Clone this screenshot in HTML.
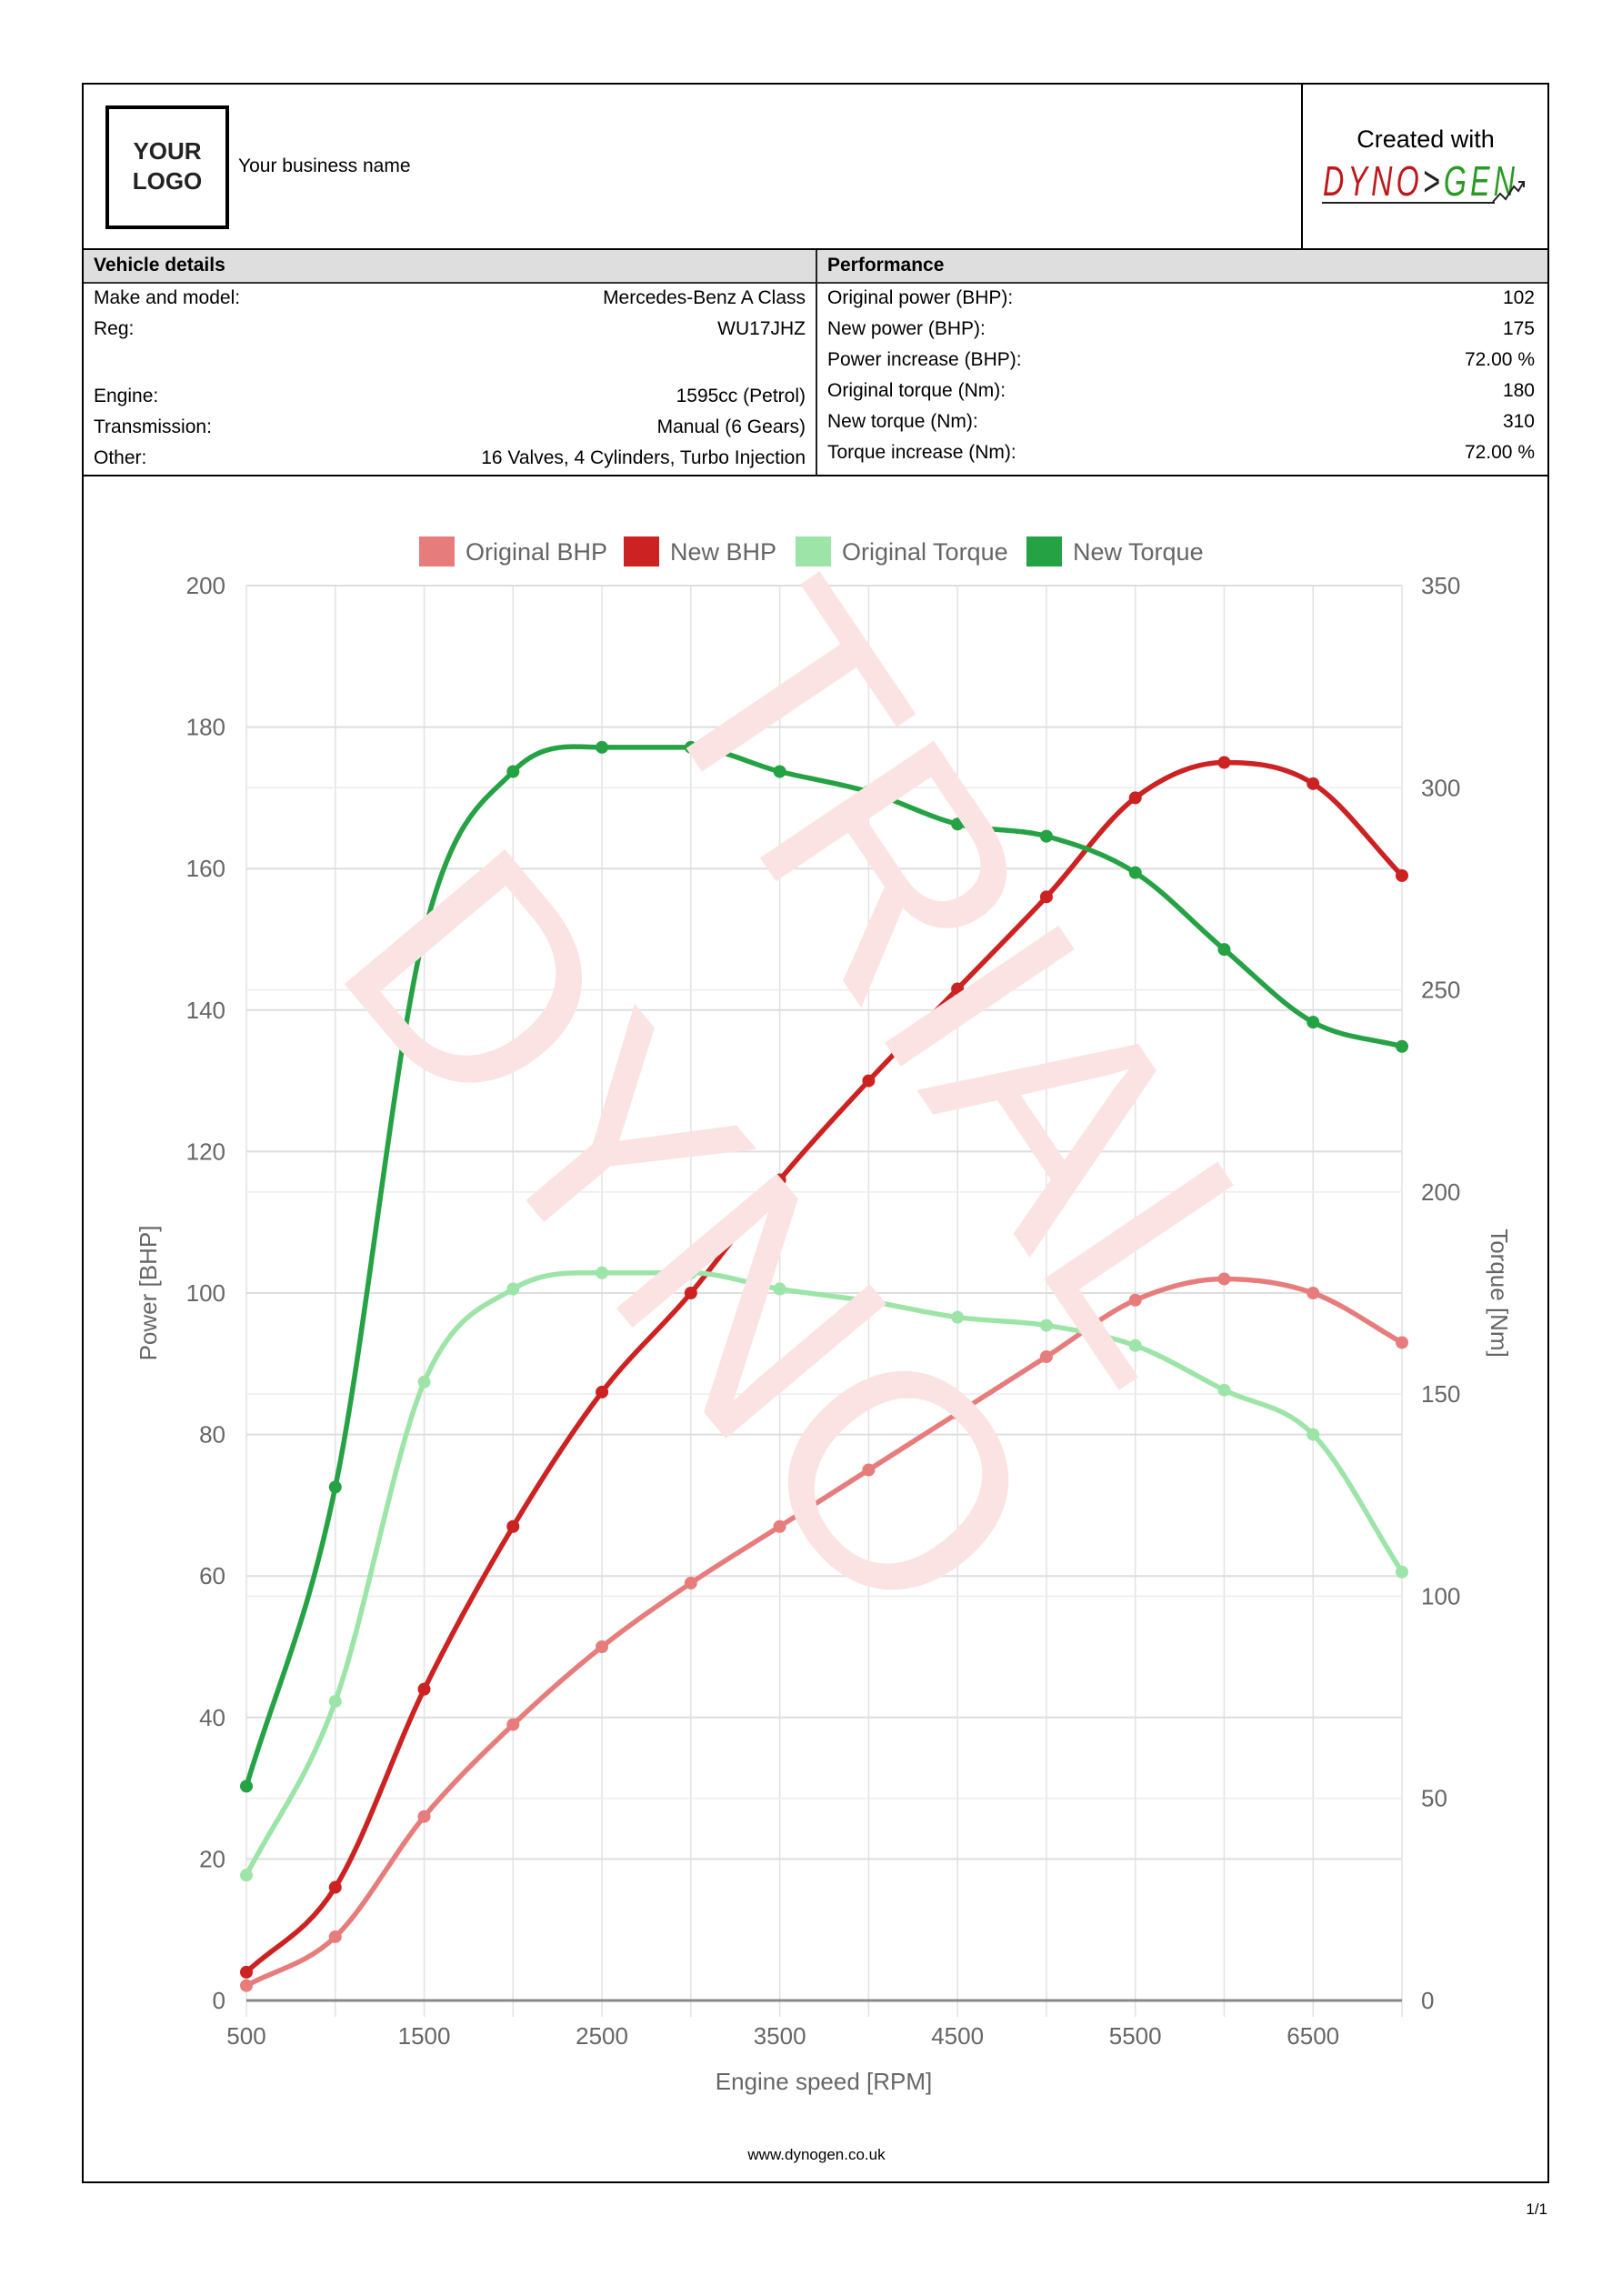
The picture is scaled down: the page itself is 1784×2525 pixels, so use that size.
<!DOCTYPE html>
<html><head><meta charset="utf-8"><style>
body{margin:0;width:1784px;height:2525px;background:#fff;font-family:"Liberation Sans",sans-serif;position:relative;overflow:hidden}
.a{position:absolute}
.t{font-size:21px;color:#000;white-space:nowrap}
</style></head><body>
<div class="a" style="left:90px;top:91px;width:1610px;height:2306px;border:2.5px solid #000"></div>
<div class="a" style="left:92px;top:273px;width:1610px;height:2px;background:#000"></div>
<div class="a" style="left:1431px;top:92px;width:2px;height:182px;background:#000"></div>
<div class="a" style="left:92px;top:275px;width:1610px;height:35px;background:#dedede;border-bottom:2px solid #333"></div>
<div class="a" style="left:92px;top:522px;width:1610px;height:2px;background:#000"></div>
<div class="a" style="left:897px;top:275px;width:2px;height:248px;background:#222"></div>
<div class="a" style="left:116px;top:116px;width:128px;height:128px;border:4px solid #000"></div>
<div class="a" style="left:116px;top:150px;width:136px;text-align:center;font-weight:bold;font-size:26px;line-height:33px;color:#222">YOUR<br>LOGO</div>
<div class="a t" style="left:262px;top:171px">Your business name</div>
<div class="a" style="left:1432px;top:138px;width:272px;text-align:center;font-size:27px">Created with</div>
<div class="a" style="left:1455px;top:172px;font-size:46px;font-style:italic;letter-spacing:6px;transform:scaleX(0.7);transform-origin:left;white-space:nowrap"><span style="color:#c0171b">DYNO</span><span style="color:#222">&gt;</span><span style="color:#2a9a22">GEN</span></div>
<div class="a" style="left:1454px;top:222px;width:190px;height:2px;background:#222"></div>
<svg class="a" style="left:1640px;top:195px" width="40" height="30"><polyline points="2,27 10,18 16,24 25,10 30,15 36,5" fill="none" stroke="#222" stroke-width="2"/><polyline points="30,5 36,5 36,11" fill="none" stroke="#222" stroke-width="2"/></svg>
<div class="a t" style="left:103px;top:280px;font-weight:bold">Vehicle details</div>
<div class="a t" style="left:910px;top:280px;font-weight:bold">Performance</div>
<div class="a t" style="left:103px;top:316px">Make and model:</div><div class="a t" style="right:898px;top:316px">Mercedes-Benz A Class</div>
<div class="a t" style="left:103px;top:350px">Reg:</div><div class="a t" style="right:898px;top:350px">WU17JHZ</div>
<div class="a t" style="left:103px;top:424px">Engine:</div><div class="a t" style="right:898px;top:424px">1595cc (Petrol)</div>
<div class="a t" style="left:103px;top:458px">Transmission:</div><div class="a t" style="right:898px;top:458px">Manual (6 Gears)</div>
<div class="a t" style="left:103px;top:492px">Other:</div><div class="a t" style="right:898px;top:492px">16 Valves, 4 Cylinders, Turbo Injection</div>
<div class="a t" style="left:910px;top:316px">Original power (BHP):</div><div class="a t" style="right:96px;top:316px">102</div>
<div class="a t" style="left:910px;top:350px">New power (BHP):</div><div class="a t" style="right:96px;top:350px">175</div>
<div class="a t" style="left:910px;top:384px">Power increase (BHP):</div><div class="a t" style="right:96px;top:384px">72.00 %</div>
<div class="a t" style="left:910px;top:418px">Original torque (Nm):</div><div class="a t" style="right:96px;top:418px">180</div>
<div class="a t" style="left:910px;top:452px">New torque (Nm):</div><div class="a t" style="right:96px;top:452px">310</div>
<div class="a t" style="left:910px;top:486px">Torque increase (Nm):</div><div class="a t" style="right:96px;top:486px">72.00 %</div>
<div class="a" style="left:0;top:2360px;width:1796px;text-align:center;font-size:17px">www.dynogen.co.uk</div>
<div class="a" style="right:82px;top:2420px;font-size:17px">1/1</div>
<svg id="c" class="a" style="left:0;top:0" width="1784" height="2525" font-family="Liberation Sans, sans-serif"></svg>
<script>
var s=document.getElementById('c'),h='';
var L=271,R=1542,T=644,B=2200;
function X(r){return L+(r-500)/6500*(R-L)}
function YP(v){return B-v/200*(B-T)}
function YT(v){return B-v/350*(B-T)}
for(var r=500;r<=7000;r+=500)h+='<line x1="'+X(r)+'" x2="'+X(r)+'" y1="'+T+'" y2="'+(B+18)+'" stroke="#e2e2e2" stroke-width="1.5"/>';
for(var v=0;v<=350;v+=50)h+='<line x1="'+L+'" x2="'+R+'" y1="'+YT(v)+'" y2="'+YT(v)+'" stroke="#ececec" stroke-width="1.5"/>';
for(var v=0;v<=200;v+=20){h+='<line x1="'+L+'" x2="'+R+'" y1="'+YP(v)+'" y2="'+YP(v)+'" stroke="'+(v?'#dedede':'#888')+'" stroke-width="'+(v?2:3)+'"/>';
h+='<text x="248" y="'+(YP(v)+9)+'" text-anchor="end" font-size="26" fill="#666">'+v+'</text>';}
for(var v=0;v<=350;v+=50)h+='<text x="1563" y="'+(YT(v)+9)+'" font-size="26" fill="#666">'+v+'</text>';
for(var r=500;r<=6500;r+=1000)h+='<text x="'+X(r)+'" y="2248" text-anchor="middle" font-size="26" fill="#666">'+r+'</text>';
h+='<text x="906" y="2298" text-anchor="middle" font-size="26" fill="#666">Engine speed [RPM]</text>';
h+='<text transform="translate(172,1422) rotate(-90)" text-anchor="middle" font-size="26" fill="#666">Power [BHP]</text>';
h+='<text transform="translate(1640,1422) rotate(90)" text-anchor="middle" font-size="26" fill="#666">Torque [Nm]</text>';
var lg=[['#e77c7c','Original BHP',461],['#cc2222','New BHP',686],['#9de4a8','Original Torque',875],['#25a244','New Torque',1129]];
lg.forEach(function(l){h+='<rect x="'+l[2]+'" y="590" width="39" height="33" fill="'+l[0]+'"/><text x="'+(l[2]+51)+'" y="616" font-size="27" fill="#666">'+l[1]+'</text>';});
var rp=[500,1000,1500,2000,2500,3000,3500,4000,4500,5000,5500,6000,6500,7000];
var D=[
['#e77c7c',YP,[2.1,9,26,39,50,59,67,75,83,91,99,102,100,93]],
['#cc2222',YP,[4,16,44,67,86,100,116,130,143,156,170,175,172,159]],
['#9de4a8',YT,[31,74,153,176,180,180,176,173,169,167,162,151,140,106]],
['#25a244',YT,[53,127,264,304,310,310,304,299,291,288,279,260,242,236]]];
D.forEach(function(d){var p=rp.map(function(r,i){return [X(r),d[1](d[2][i])]});
var n=p.length,m=[],dl=[];for(var i=0;i<n-1;i++)dl.push((p[i+1][1]-p[i][1])/(p[i+1][0]-p[i][0]));
for(var i=0;i<n;i++){if(i==0)m.push(dl[0]);else if(i==n-1)m.push(dl[n-2]);else m.push(dl[i-1]*dl[i]<=0?0:(dl[i-1]+dl[i])/2);}
var path='M'+p[0][0]+','+p[0][1];
for(var i=0;i<n-1;i++){var dx=(p[i+1][0]-p[i][0])/3;path+='C'+(p[i][0]+dx)+','+(p[i][1]+m[i]*dx)+' '+(p[i+1][0]-dx)+','+(p[i+1][1]-m[i+1]*dx)+' '+p[i+1][0]+','+p[i+1][1];}
h+='<path d="'+path+'" fill="none" stroke="'+d[0]+'" stroke-width="5.5"/>';
p.forEach(function(q){h+='<circle cx="'+q[0]+'" cy="'+q[1]+'" r="7" fill="'+d[0]+'"/>';});});
h+='<g fill="#fbe3e3" font-size="335"><text transform="translate(1045,1095) rotate(56)" text-anchor="middle" dominant-baseline="middle">TRIAL</text>';
h+='<text transform="translate(740,1375) rotate(50)" text-anchor="middle" dominant-baseline="middle">DYNO</text></g>';
s.innerHTML=h;
</script>
</body></html>
